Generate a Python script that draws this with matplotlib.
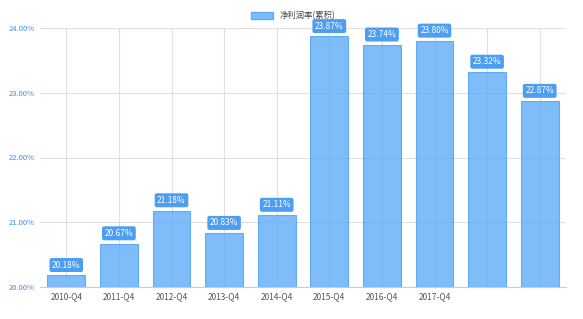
import matplotlib.pyplot as plt
from matplotlib.patches import Patch

plt.rcParams['font.family'] = ['Noto Sans CJK SC', 'DejaVu Sans']

categories = ['2010-Q4', '2011-Q4', '2012-Q4', '2013-Q4', '2014-Q4',
              '2015-Q4', '2016-Q4', '2017-Q4', '2018-Q4', '2019-Q4']
tick_labels = ['2010-Q4', '2011-Q4', '2012-Q4', '2013-Q4', '2014-Q4',
               '2015-Q4', '2016-Q4', '2017-Q4', '', '']
net_margin = [20.18, 20.67, 21.18, 20.83, 21.11, 23.87, 23.74, 23.80, 23.32, 22.87]
y_ticks = [20, 21, 22, 23, 24]

bar_color = '#5aa9f9'
edge_color = '#4a9ef5'
label_bg = '#4c9ef3'

fig = plt.figure(figsize=(5.83, 3.19), dpi=100)
ax = fig.add_axes([40 / 583, 1 - 287 / 319, 526 / 583, 259 / 319])

x = list(range(len(categories)))
ax.bar(x, [v - 20 for v in net_margin], bottom=20, width=0.72,
       color=bar_color, alpha=0.78, edgecolor=edge_color, linewidth=0.8, zorder=2)

for xi, v in zip(x, net_margin):
    ax.text(xi, v + 0.09, f'{v:.2f}%', ha='center', va='bottom', fontsize=6,
            color='white', zorder=4,
            bbox=dict(boxstyle='round,pad=0.3,rounding_size=0.25',
                      fc=label_bg, ec='none'))

ax.set_xlim(-0.5, len(categories) - 0.5)
ax.set_ylim(20, 24)
ax.set_yticks(y_ticks)
ax.set_yticklabels([f'{t:.2f}%' for t in y_ticks], color='#3d8fe8', fontsize=5.5)
ax.set_xticks(x)
ax.set_xticklabels(tick_labels, color='#555555', fontsize=6)
ax.tick_params(axis='y', length=0, pad=4)
ax.tick_params(axis='x', length=0, pad=4)

ax.grid(True, color='#e0e0e0', linewidth=0.8, zorder=0)
ax.set_axisbelow(True)
for side in ['top', 'right', 'left']:
    ax.spines[side].set_visible(False)
ax.spines['bottom'].set_color('#cccccc')

fig.legend(handles=[Patch(facecolor=bar_color, alpha=0.78, edgecolor=edge_color,
                          label='净利润率(累积)')],
           loc='center', bbox_to_anchor=(293 / 583, 1 - 16 / 319), frameon=False,
           fontsize=6, handlelength=2.6, handleheight=0.9, labelcolor='#444444')

fig.savefig('out.png', dpi=100)
